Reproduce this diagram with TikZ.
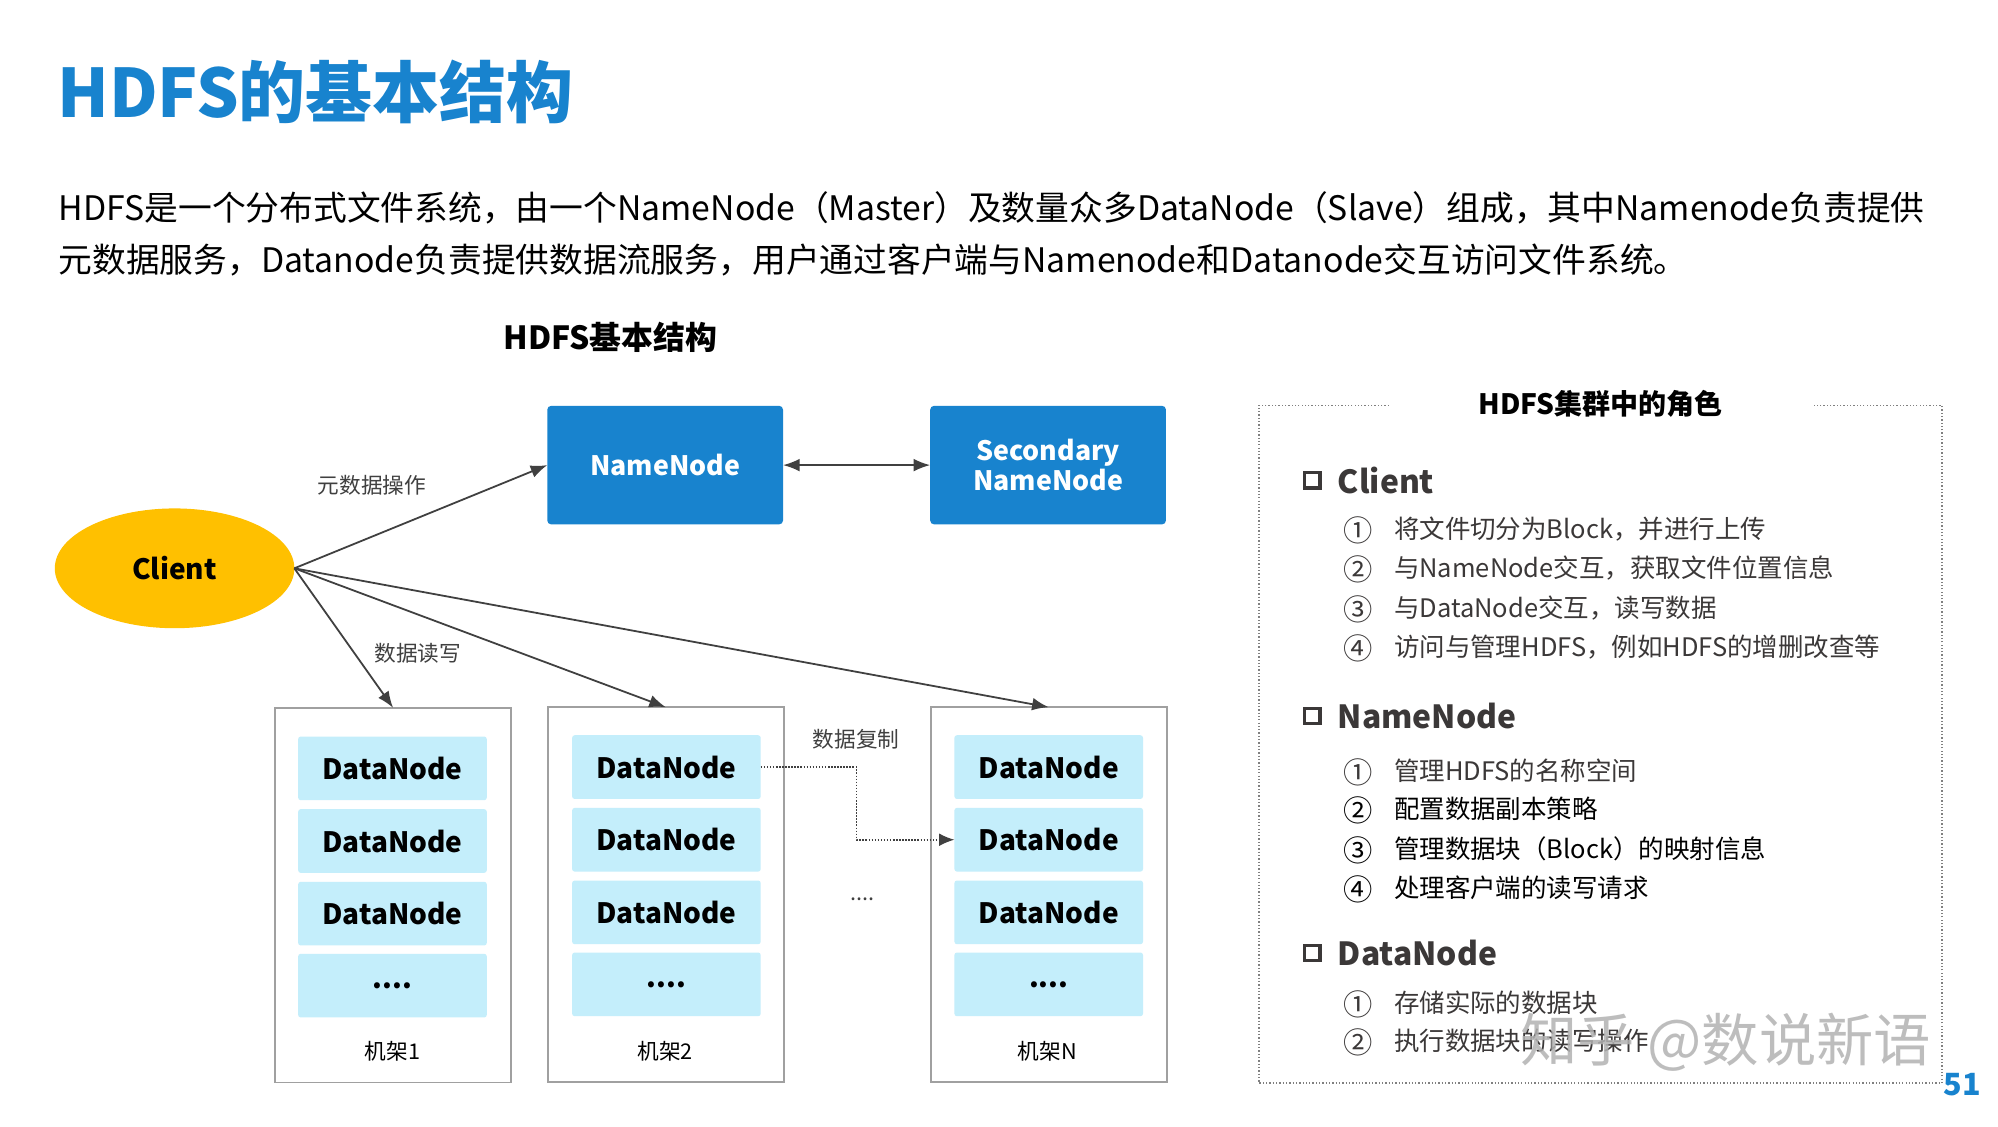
\documentclass[tikz,border=0pt]{standalone}
\usepackage{fontspec}
\setmainfont{Noto Sans CJK SC}
\usetikzlibrary{arrows.meta,calc,shapes.geometric}
\definecolor{hblue}{RGB}{24,131,206}
\definecolor{dncyan}{RGB}{196,238,251}
\definecolor{cyellow}{RGB}{255,192,0}
\definecolor{dgray}{RGB}{64,64,64}
\definecolor{tgray}{RGB}{59,56,56}
\definecolor{rgray}{RGB}{160,160,160}
\tikzset{
  every node/.style={inner sep=0pt,outer sep=0pt},
  bluebox/.style={fill=hblue,rounded corners=3pt,minimum width=185pt,minimum height=93pt,text=white,font=\bfseries\fontsize{21}{24}\selectfont,align=center},
  rackbox/.style={draw=rgray,line width=1.5pt,minimum width=185pt,minimum height=294pt},
  dnbox/.style={fill=dncyan,rounded corners=2pt,minimum width=148pt,minimum height=50pt,font=\bfseries\fontsize{22}{24}\selectfont},
  conn/.style={draw=dgray,line width=1.4pt,-{Latex[length=13pt,width=10pt]}},
  dconn/.style={draw=dgray,line width=1.4pt,{Latex[length=13pt,width=10pt]}-{Latex[length=13pt,width=10pt]}},
  repl/.style={draw=dgray,line width=1.2pt,dash pattern=on 1.2pt off 1.2pt,-{Latex[length=12pt,width=10pt]}},
  small/.style={font=\fontsize{17}{20}\selectfont,text=dgray},
  racklabel/.style={font=\fontsize{17}{20}\selectfont,text=black},
  head/.style={font=\bfseries\fontsize{25}{28}\selectfont,text=tgray,anchor=west},
  item/.style={font=\fontsize{20}{24}\selectfont,text=tgray,anchor=west},
  num/.style={font=\fontsize{23}{24}\selectfont,text=tgray},
  sqbullet/.style={draw=tgray,line width=2.6pt,minimum size=12pt},
}
\begin{document}
\begin{tikzpicture}[x=1pt,y=-1pt]
\useasboundingbox[fill=white] (0,0) rectangle (1568,884);

% title and paragraph
\node[anchor=west,text=hblue,font=\bfseries\fontsize{52.5}{60}\selectfont] (title) at (45,72) {HDFS的基本结构};
\node[anchor=west,font=\fontsize{26.5}{32}\selectfont] (p1) at (46,163) {HDFS是一个分布式文件系统，由一个NameNode（Master）及数量众多DataNode（Slave）组成，其中Namenode负责提供};
\node[anchor=west,font=\fontsize{26.5}{32}\selectfont] (p2) at (46,204) {元数据服务，Datanode负责提供数据流服务，用户通过客户端与Namenode和Datanode交互访问文件系统。};

\node[font=\bfseries\fontsize{25}{28}\selectfont] (sub) at (479,265) {HDFS基本结构};

% main nodes
\node[ellipse,fill=cyellow,minimum width=188pt,minimum height=94pt,font=\bfseries\fontsize{22}{24}\selectfont] (client) at (137,446) {Client};
\node[bluebox] (nn) at (522,365) {NameNode};
\node[bluebox] (snn) at (822.5,365) {Secondary\\NameNode};

% racks
\node[rackbox] (r1) at (308.5,702.5) {};
\node[rackbox] (r2) at (522.5,702) {};
\node[rackbox] (r3) at (823,702) {};

\node[dnbox] (d11) at (308,603) {DataNode};
\node[dnbox] (d12) at (308,660) {DataNode};
\node[dnbox] (d13) at (308,717) {DataNode};
\node[dnbox] (d14) at (308,773.5) {....};
\node[dnbox] (d21) at (523,602) {DataNode};
\node[dnbox] (d22) at (523,659) {DataNode};
\node[dnbox] (d23) at (523,716) {DataNode};
\node[dnbox] (d24) at (523,772.5) {....};
\node[dnbox] (d31) at (823,602) {DataNode};
\node[dnbox] (d32) at (823,659) {DataNode};
\node[dnbox] (d33) at (823,716) {DataNode};
\node[dnbox] (d34) at (823,772.5) {....};

\node[racklabel] (l1) at (308,825) {机架1};
\node[racklabel] (l2) at (522,825) {机架2};
\node[racklabel] (l3) at (822,825) {机架N};

% connectors
\draw[conn] (client.east) -- (nn.west);
\draw[dconn] (nn.east) -- (snn.west);
\draw[conn] (client.east) -- (r1.north);
\draw[conn] (client.east) -- (r2.north);
\draw[conn] (client.east) -- (r3.north);
\coordinate (rmid) at (672,0);
\draw[repl] (d21.east) -- (d21.east -| rmid) |- (d32.west);

\node[small] (lmeta) at (292,381) {元数据操作};
\node[small] (lrw) at (328,513) {数据读写};
\node[small] (lrep) at (672,580) {数据复制};
\node[font=\fontsize{17}{20}\selectfont,text=dgray] (dots) at (677,706) {....};

% right panel
\draw[draw=gray,line width=1pt,dash pattern=on 1pt off 1.6pt] (1090,318) -- (988,318) -- (988,850) -- (1524,850) -- (1524,318) -- (1422,318);
\node[font=\bfseries\fontsize{22}{26}\selectfont] (ptitle) at (1256,317) {HDFS集群中的角色};

\node[sqbullet] (b1) at (1030,377) {};
\node[head] (h1) at (1050,377) {Client};
\node[num] (n11) at (1066,416) {①};
\node[item] (i11) at (1094,415) {将文件切分为Block，并进行上传};
\node[num] (n12) at (1066,447) {②};
\node[item] (i12) at (1094,446) {与NameNode交互，获取文件位置信息};
\node[num] (n13) at (1066,478) {③};
\node[item] (i13) at (1094,477) {与DataNode交互，读写数据};
\node[num] (n14) at (1066,509) {④};
\node[item] (i14) at (1094,508) {访问与管理HDFS，例如HDFS的增删改查等};

\node[sqbullet] (b2) at (1030,562) {};
\node[head] (h2) at (1050,562) {NameNode};
\node[num] (n21) at (1066,606) {①};
\node[item] (i21) at (1094,605) {管理HDFS的名称空间};
\node[num,text=black] (n22) at (1066,636) {②};
\node[item,text=black] (i22) at (1094,635) {配置数据副本策略};
\node[num,text=black] (n23) at (1066,667) {③};
\node[item,text=black] (i23) at (1094,666) {管理数据块（Block）的映射信息};
\node[num,text=black] (n24) at (1066,698) {④};
\node[item,text=black] (i24) at (1094,697) {处理客户端的读写请求};

\node[sqbullet] (b3) at (1030,748) {};
\node[head] (h3) at (1050,748) {DataNode};
\node[num] (n31) at (1066,788) {①};
\node[item] (i31) at (1094,787) {存储实际的数据块};
\node[num] (n32) at (1066,818) {②};
\node[item] (i32) at (1094,817) {执行数据块的读写操作};

\node[anchor=west,text=gray!60,opacity=0.85,font=\fontsize{45}{48}\selectfont] (wm) at (1193,818) {知乎 @数说新语};
\node[text=hblue,font=\bfseries\fontsize{24}{26}\selectfont] (pg) at (1540,851) {51};
\end{tikzpicture}
\end{document}
